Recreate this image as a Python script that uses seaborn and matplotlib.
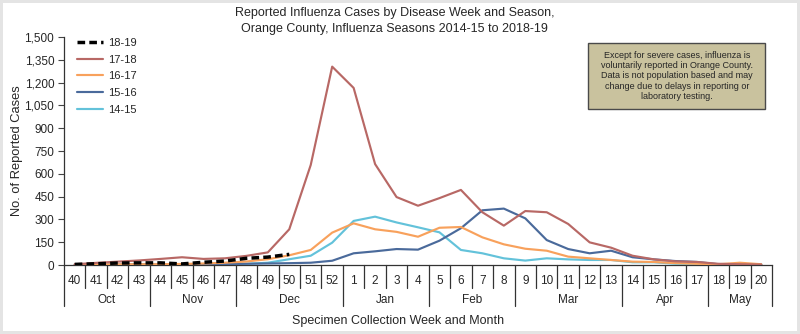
import numpy as np
import pandas as pd
import matplotlib
matplotlib.use("Agg")
import matplotlib.pyplot as plt
from matplotlib.patches import Rectangle
from matplotlib.ticker import FuncFormatter, MultipleLocator
from matplotlib.lines import Line2D
import seaborn as sns

# Disease weeks of the flu season (week 40 through week 20)
weeks = [40, 41, 42, 43, 44, 45, 46, 47, 48, 49, 50, 51, 52,
         1, 2, 3, 4, 5, 6, 7, 8, 9, 10, 11, 12, 13, 14, 15, 16, 17, 18, 19, 20]
months = ["Oct", "Nov", "Dec", "Jan", "Feb", "Mar", "Apr", "May"]
weeks_per_month = [4, 4, 5, 4, 4, 5, 4, 3]

seasons = ["18-19", "17-18", "16-17", "15-16", "14-15"]

cases_1819 = [4, 8, 13, 14, 14, 7, 18, 26, 44, 52, 70]
cases_1718 = [5, 14, 22, 30, 40, 51, 40, 44, 60, 83, 235, 658, 1305,
              1165, 664, 447, 390, 440, 494, 347, 259, 355, 347, 270, 149,
              114, 61, 37, 24, 20, 8, 5, 3]
cases_1617 = [2, 3, 4, 5, 5, 7, 10, 15, 23, 38, 64, 99, 213,
              274, 235, 218, 186, 245, 250, 182, 136, 107, 94, 55, 44,
              33, 22, 20, 12, 8, 5, 15, 5]
cases_1516 = [1, 2, 2, 3, 3, 4, 5, 6, 8, 10, 12, 15, 28,
              77, 90, 105, 101, 160, 242, 360, 371, 307, 164, 105, 77,
              94, 51, 37, 26, 20, 5, 3, 2]
cases_1415 = [1, 2, 2, 3, 3, 3, 4, 5, 8, 15, 38, 61, 147,
              290, 318, 280, 248, 215, 99, 77, 44, 29, 44, 37, 33,
              33, 18, 18, 8, 5, 5, 4, 3]

series = {
    "18-19": cases_1819,
    "17-18": cases_1718,
    "16-17": cases_1617,
    "15-16": cases_1516,
    "14-15": cases_1415,
}
colors = {
    "18-19": "#000000",
    "17-18": "#B86865",
    "16-17": "#F8A15C",
    "15-16": "#4A6A9B",
    "14-15": "#63C2DA",
}

rows = []
for s, vals in series.items():
    for i, v in enumerate(vals):
        rows.append({"season": s, "pos": i, "cases": v})
df = pd.DataFrame(rows)

sns.set_theme(style="white")
plt.rcParams["font.family"] = ["Liberation Sans", "DejaVu Sans"]

fig = plt.figure(figsize=(8, 3.34), dpi=100)
fig.patch.set_edgecolor("#e4e4e4")
fig.patch.set_linewidth(3)
ax = fig.add_axes([64 / 800, 69 / 334, 708 / 800, 228 / 334])


def line_style(s):
    if s == "18-19":
        return dict(lw=2.5, linestyle=(0, (2.2, 1.2)))
    return dict(lw=1.55, linestyle="-")


draw_order = ["14-15", "15-16", "16-17", "17-18", "18-19"]
for s in draw_order:
    sub = df[df["season"] == s]
    sns.lineplot(data=sub, x="pos", y="cases", ax=ax, color=colors[s],
                 legend=False, zorder=5 if s == "18-19" else 3,
                 **line_style(s))

ax.set_xlim(-0.5, len(weeks) - 0.5)
ax.set_ylim(0, 1500)
ax.yaxis.set_major_locator(MultipleLocator(150))
ax.yaxis.set_major_formatter(FuncFormatter(lambda v, p: f"{int(v):,}"))
ax.tick_params(axis="y", which="major", length=4, width=0.8, color="#444444",
               labelsize=8.5, pad=3, left=True, direction="out")
ax.set_xticks(range(len(weeks)))
ax.set_xticklabels([str(w) for w in weeks], fontsize=8.5)
ax.tick_params(axis="x", length=0, pad=7)

for side in ["top", "right"]:
    ax.spines[side].set_visible(False)
for side in ["left", "bottom"]:
    ax.spines[side].set_color("#333333")
    ax.spines[side].set_linewidth(0.9)

ax.set_xlabel("")
ax.set_ylabel("No. of Reported Cases", fontsize=9.3, labelpad=1)

# category boxes below the axis
tr = ax.get_xaxis_transform()
week_drop = -0.10
month_drop = -0.178
month_edges = np.concatenate([[0], np.cumsum(weeks_per_month)]) - 0.5
for b in np.arange(len(weeks) + 1) - 0.5:
    end = month_drop if b in month_edges else week_drop
    ax.plot([b, b], [0, end], transform=tr, color="#333333", lw=0.9,
            clip_on=False)
for m, lo, hi in zip(months, month_edges[:-1], month_edges[1:]):
    ax.text((lo + hi) / 2, -0.155, m, transform=tr, ha="center", va="center",
            fontsize=8.5)

fig.text(0.497, 1 - 321 / 334, "Specimen Collection Week and Month",
         ha="center", va="center", fontsize=9)

fig.text(0.493, 1 - 21 / 334,
         "Reported Influenza Cases by Disease Week and Season,\n"
         "Orange County, Influenza Seasons 2014-15 to 2018-19",
         ha="center", va="center", fontsize=9, linespacing=1.35)

handles = [Line2D([], [], color=colors[s], **line_style(s)) for s in seasons]
ax.legend(handles, seasons, loc="upper left", bbox_to_anchor=(0.008, 1.03),
          frameon=False, fontsize=8, handlelength=2.3, handletextpad=0.5,
          labelspacing=0.6, borderaxespad=0.3)

box = Rectangle((588 / 800, 1 - 109 / 334), 177 / 800, 66 / 334,
                transform=fig.transFigure, facecolor="#C9C29E",
                edgecolor="#4a4a4a", lw=1.0, zorder=1)
fig.patches.append(box)
fig.text(677 / 800, 1 - 76 / 334,
         "Except for severe cases, influenza is\n"
         "voluntarily reported in Orange County.\n"
         "Data is not population based and may\n"
         "change due to delays in reporting or\n"
         "laboratory testing.",
         ha="center", va="center", fontsize=6.5, linespacing=1.2, zorder=2)

fig.savefig("out.png", dpi=100)
